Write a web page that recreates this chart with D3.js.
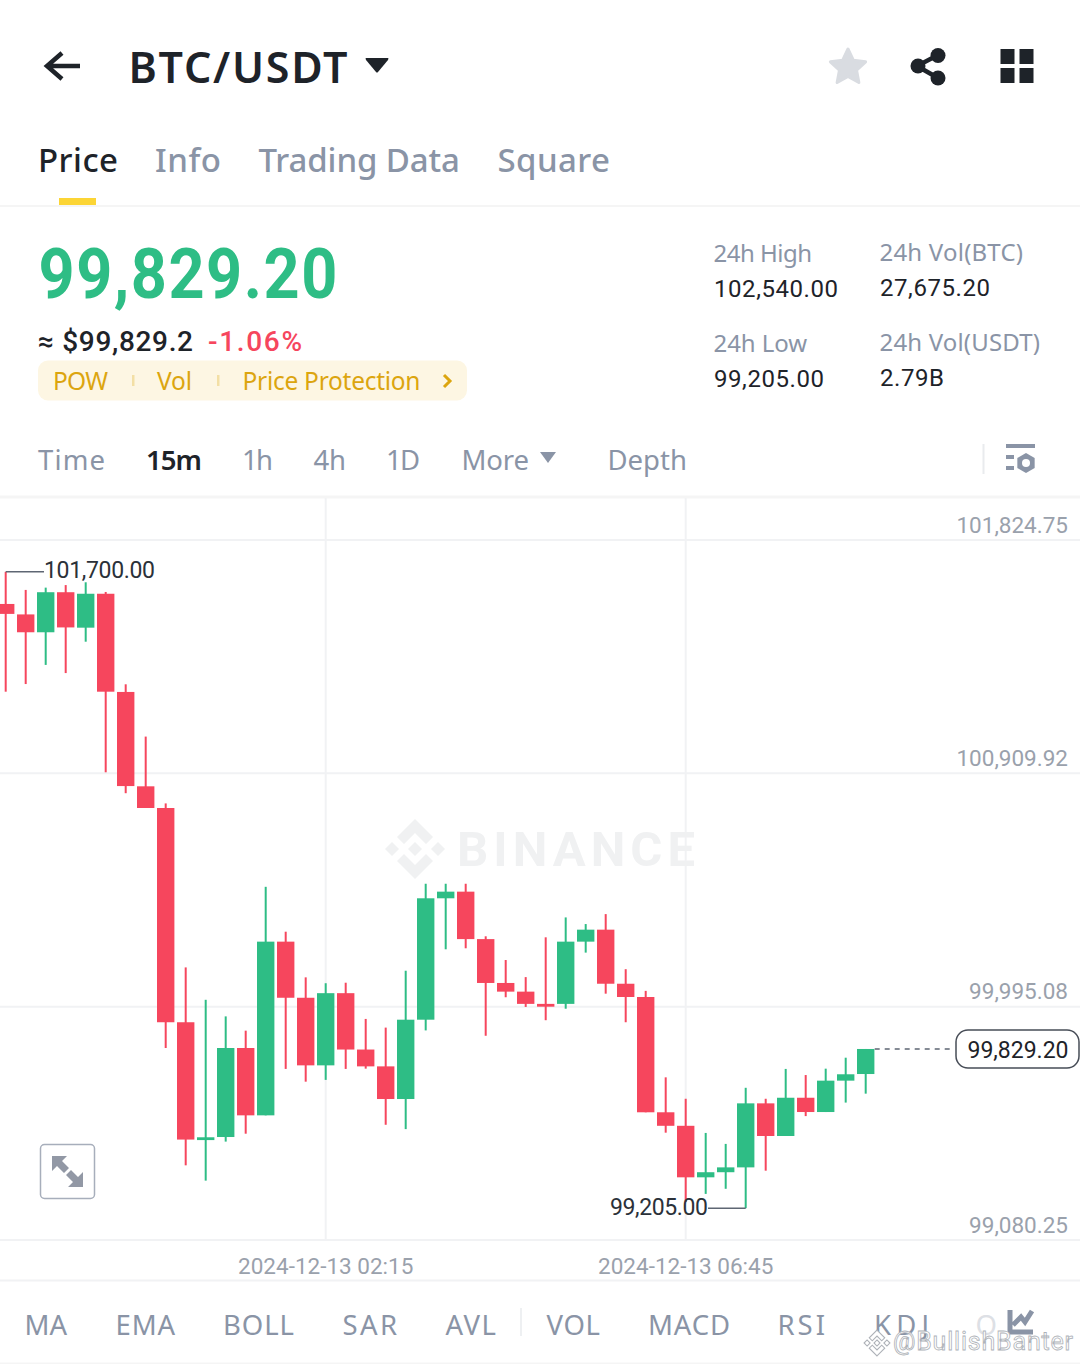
<!DOCTYPE html>
<html>
<head>
<meta charset="utf-8">
<title>BTC/USDT</title>
<script src="https://cdn.jsdelivr.net/npm/d3@7/dist/d3.min.js"></script>
<style>
  html, body { margin: 0; padding: 0; background: #fff; }
  svg { display: block; }
  text { font-family: "Noto Sans", sans-serif; }
  .num { font-family: Roboto, sans-serif; }
</style>
</head>
<body>
<svg></svg>
<script>
'use strict';
// candles (one every 15 minutes)
var opens = [101574, 101533, 101463, 101620, 101481, 101614, 101229, 100859, 100774, 99934, 99472,
  99484, 99833, 99569, 100250, 100030, 99765, 100048, 99827, 99761, 99633, 99944, 100420, 100446,
  100260, 100088, 100054, 100006, 100006, 100250, 100297, 100085, 100033, 99581, 99528, 99326,
  99346, 99365, 99616, 99488, 99638, 99582, 99705, 99731];
var highs = [101700, 101629, 101638, 101648, 101659, 101621, 101259, 101054, 100792, 100149, 100022,
  99957, 99901, 100465, 100289, 100110, 100087, 100089, 99947, 99913, 100136, 100477, 100477, 100477,
  100271, 100178, 100111, 100267, 100345, 100319, 100358, 100142, 100057, 99718, 99634, 99500,
  99457, 99677, 99634, 99751, 99727, 99752, 99795, 99829.2];
var lows = [101230, 101260, 101335, 101303, 101426, 100914, 100832, 100774, 99833, 99373, 99313,
  99466, 99497, 99569, 99751, 99701, 99708, 99751, 99752, 99532, 99515, 99902, 100220, 100224,
  99881, 100032, 99994, 99942, 99987, 100207, 100046, 99934, 99581, 99501, 99230, 99261,
  99281, 99205, 99352, 99488, 99566, 99582, 99619, 99654];
var closes = [101535, 101463, 101620, 101482, 101614, 101230, 100860, 100774, 99934, 99474, 99483,
  99833, 99569, 100250, 100030, 99765, 100048, 99827, 99761, 99633, 99944, 100420, 100446, 100260,
  100088, 100054, 100006, 99995, 100250, 100297, 100085, 100033, 99581, 99528, 99326, 99346,
  99365, 99616, 99488, 99638, 99582, 99705, 99730, 99829.2];

var priceTicks = [101824.75, 100909.92, 99995.08, 99080.25];
var timeTickIndex = [16, 34];
var timeTickLabels = ['2024-12-13 02:15', '2024-12-13 06:45'];
var highMark = { index: 0, price: 101700 };
var lowMark = { index: 37, price: 99205 };
var lastPrice = 99829.20;

var tabNames = ['Price', 'Info', 'Trading Data', 'Square'];
var intervalNames = ['Time', '15m', '1h', '4h', '1D', 'More', 'Depth'];
var indicatorNames = ['MA', 'EMA', 'BOLL', 'SAR', 'AVL', 'VOL', 'MACD', 'RSI', 'KDJ', 'O'];

var GREEN = '#2EBD85', RED = '#F6465D', DARK = '#1E2329', GREY = '#8A94A6', AXIS = '#9AA1AC', GRID = '#F1F2F4';

var svg = d3.select('svg').attr('width', 1080).attr('height', 1364);
svg.append('rect').attr('width', 1080).attr('height', 1364).attr('fill', '#fff');

// text helper, w stretches the string to the width it has in the picture
function label(x, y, str, size, color, opts) {
  opts = opts || {};
  var t = svg.append('text')
    .attr('x', x).attr('y', y)
    .attr('font-size', size)
    .attr('fill', color)
    .attr('font-weight', opts.weight || 400)
    .attr('text-anchor', opts.anchor || 'start')
    .text(str);
  if (opts.num) t.attr('class', 'num');
  if (opts.w) t.attr('textLength', opts.w).attr('lengthAdjust', 'spacing');
  return t;
}

// ---- header
svg.append('path').attr('d', 'M80 66H48M62 53L47 66L62 79')
  .attr('fill', 'none').attr('stroke', DARK).attr('stroke-width', 4.5);
label(128.5, 83, 'BTC/USDT', 43, DARK, { weight: 600, w: 219 });
svg.append('path').attr('d', 'M366 58H388Q389 58 388 60L378 72Q377 73 376 72L366 60Q365 58 366 58Z').attr('fill', DARK);

// star, share, grid icons
var star = d3.range(10).map(function(i) {
  var r = i % 2 ? 9 : 18.5, a = i * Math.PI / 5 - Math.PI / 2;
  return [848 + r * Math.cos(a), 67.5 + r * Math.sin(a)];
});
svg.append('polygon').attr('points', star.join(' ')).attr('fill', '#D9DCE1')
  .attr('stroke', '#D9DCE1').attr('stroke-width', 3).attr('stroke-linejoin', 'round');
svg.append('path').attr('d', 'M938 55L917 66L938 78').attr('fill', 'none').attr('stroke', DARK).attr('stroke-width', 4.5);
[[938, 55.5], [918, 66], [938, 78]].forEach(function(p) {
  svg.append('circle').attr('cx', p[0]).attr('cy', p[1]).attr('r', 7.5).attr('fill', DARK);
});
[[1000.5, 49], [1019.5, 49], [1000.5, 68], [1019.5, 68]].forEach(function(p) {
  svg.append('rect').attr('x', p[0]).attr('y', p[1]).attr('width', 14).attr('height', 15).attr('fill', DARK);
});

// ---- tabs
var tabX = [38, 155, 258.5, 497.5], tabW = [80, 66, 201.5, 112.5];
tabNames.forEach(function(n, i) {
  label(tabX[i], 172, n, 33, i ? GREY : DARK, { weight: 500, w: tabW[i] });
});
svg.append('rect').attr('x', 59).attr('y', 198).attr('width', 37).attr('height', 7).attr('fill', '#FCD535');
svg.append('rect').attr('x', 0).attr('y', 205).attr('width', 1080).attr('height', 2).attr('fill', '#F5F5F5');

// ---- price block, squeezed a bit since the app font has narrower digits
label(0, 0, '99,829.20', 70, GREEN, { weight: 700, num: true, w: 332 })
  .attr('transform', 'translate(38.5,298) scale(0.9,1)');
label(38, 351, '≈ $99,829.2', 28, DARK, { weight: 500, num: true, w: 155 });
label(208, 351, '-1.06%', 28, RED, { weight: 500, num: true, w: 94 });
svg.append('rect').attr('x', 38).attr('y', 360.5).attr('width', 429).attr('height', 40).attr('rx', 10).attr('fill', '#FDF6E3');
label(53, 389.5, 'POW', 24.5, '#DCA50F', { w: 55 });
label(157, 389.5, 'Vol', 24.5, '#DCA50F', { w: 35 });
label(242.5, 389.5, 'Price Protection', 24.5, '#DCA50F', { w: 178 });
[132, 217].forEach(function(x) {
  svg.append('rect').attr('x', x).attr('y', 375).attr('width', 2.5).attr('height', 11).attr('fill', '#F3DFA5');
});
svg.append('path').attr('d', 'M444 375L450 381L444 387').attr('fill', 'none').attr('stroke', '#DCA50F').attr('stroke-width', 3);

label(713.5, 262, '24h High', 24, GREY, { w: 98.5 });
label(714, 297, '102,540.00', 24, DARK, { num: true, w: 124 });
label(879.5, 261, '24h Vol(BTC)', 24, GREY, { w: 143.5 });
label(880, 296, '27,675.20', 24, DARK, { num: true, w: 110 });
label(713.5, 352, '24h Low', 24, GREY, { w: 93.5 });
label(714, 387, '99,205.00', 24, DARK, { num: true, w: 110 });
label(879.5, 351, '24h Vol(USDT)', 24, GREY, { w: 160.5 });
label(880, 386, '2.79B', 24, DARK, { num: true, w: 64 });

// ---- interval row
var intervalX = [38, 146, 242, 313.5, 386, 461.5, 607.5], intervalW = [67, 56, 31, 32.5, 34, 67.5, 79.5];
intervalNames.forEach(function(n, i) {
  label(intervalX[i], 470, n, 27.5, i === 1 ? DARK : GREY, { weight: i === 1 ? 600 : 400, w: intervalW[i] });
});
svg.append('path').attr('d', 'M540 452H556L548 463Z').attr('fill', GREY);
svg.append('rect').attr('x', 982.5).attr('y', 444).attr('width', 2).attr('height', 30).attr('fill', '#E9EBEE');
svg.append('rect').attr('x', 1006).attr('y', 444).attr('width', 29).attr('height', 4).attr('fill', GREY);
svg.append('rect').attr('x', 1006).attr('y', 455).attr('width', 8).attr('height', 4).attr('fill', GREY);
svg.append('rect').attr('x', 1006).attr('y', 466).attr('width', 8).attr('height', 4).attr('fill', GREY);
var hexagon = d3.range(6).map(function(i) {
  var a = i * Math.PI / 3 - Math.PI / 2;
  return [1026 + 10 * Math.cos(a), 463 + 10 * Math.sin(a)];
});
svg.append('polygon').attr('points', hexagon.join(' ')).attr('fill', GREY);
svg.append('circle').attr('cx', 1026).attr('cy', 463).attr('r', 4).attr('fill', '#fff');

// ---- chart area
svg.append('rect').attr('x', 0).attr('y', 495.5).attr('width', 1080).attr('height', 3).attr('fill', '#F5F5F5');
var xScale = d3.scaleLinear().domain([0, 43]).range([5.7, 865.7]);
var yScale = d3.scaleLinear().domain([99080.25, 101824.75]).range([1240, 540]);

// grid
svg.selectAll('line.hgrid').data(priceTicks).enter().append('line').attr('class', 'hgrid')
  .attr('x1', 0).attr('x2', 1080)
  .attr('y1', function(d) { return yScale(d); })
  .attr('y2', function(d) { return yScale(d); })
  .attr('stroke', GRID).attr('stroke-width', 2);
svg.selectAll('line.vgrid').data(timeTickIndex).enter().append('line').attr('class', 'vgrid')
  .attr('x1', function(d) { return xScale(d); })
  .attr('x2', function(d) { return xScale(d); })
  .attr('y1', 498).attr('y2', 1240)
  .attr('stroke', GRID).attr('stroke-width', 2);

// BINANCE watermark sits under the candles
var logoParts = [
  '0,-30 18,-12 11,-5 0,-16 -11,-5 -18,-12',
  '0,30 18,12 11,5 0,16 -11,5 -18,12',
  '-30,0 -23,-7 -16,0 -23,7',
  '30,0 23,-7 16,0 23,7',
  '0,-7 7,0 0,7 -7,0'
];
var logo = svg.append('g').attr('transform', 'translate(415,849)').attr('fill', '#F0F1F2');
logoParts.forEach(function(p) { logo.append('polygon').attr('points', p); });
label(457, 866, 'BINANCE', 49, '#F0F1F2', { weight: 700, num: true, w: 238 });

// candles
var candles = d3.range(opens.length);
var colorOf = function(i) { return closes[i] >= opens[i] ? GREEN : RED; };
svg.selectAll('rect.wick').data(candles).enter().append('rect').attr('class', 'wick')
  .attr('x', function(i) { return xScale(i) - 1; })
  .attr('width', 2)
  .attr('y', function(i) { return yScale(highs[i]); })
  .attr('height', function(i) { return yScale(lows[i]) - yScale(highs[i]); })
  .attr('fill', colorOf);
svg.selectAll('rect.body').data(candles).enter().append('rect').attr('class', 'body')
  .attr('x', function(i) { return xScale(i) - 8.7; })
  .attr('width', 17.4)
  .attr('y', function(i) { return yScale(Math.max(opens[i], closes[i])); })
  .attr('height', function(i) { return Math.max(2, Math.abs(yScale(opens[i]) - yScale(closes[i]))); })
  .attr('fill', colorOf);

// price axis labels
priceTicks.forEach(function(p) {
  label(1068, yScale(p) - 7.5, d3.format(',.2f')(p), 22.5, AXIS, { anchor: 'end', num: true });
});
// time axis labels
timeTickIndex.forEach(function(d, i) {
  label(xScale(d), 1274, timeTickLabels[i], 22.5, AXIS, { anchor: 'middle', num: true });
});
svg.append('rect').attr('x', 0).attr('y', 1279.5).attr('width', 1080).attr('height', 2).attr('fill', '#F1F2F4');

// high / low markers
var conn = svg.append('g').attr('stroke', '#5E6673').attr('stroke-width', 1.5).attr('fill', 'none');
conn.append('line').attr('x1', xScale(highMark.index)).attr('x2', 44)
  .attr('y1', yScale(highMark.price)).attr('y2', yScale(highMark.price));
label(44, yScale(highMark.price) + 6, d3.format(',.2f')(highMark.price), 23, '#2B3139', { num: true, w: 111 });
conn.append('line').attr('x1', 708).attr('x2', xScale(lowMark.index))
  .attr('y1', yScale(lowMark.price)).attr('y2', yScale(lowMark.price));
label(610, yScale(lowMark.price) + 7, d3.format(',.2f')(lowMark.price), 23, '#2B3139', { num: true, w: 98 });

// last price
conn.append('line').attr('x1', xScale(43) + 9).attr('x2', 950)
  .attr('y1', yScale(lastPrice)).attr('y2', yScale(lastPrice))
  .attr('stroke-dasharray', '5,5');
svg.append('rect').attr('x', 956).attr('y', 1030).attr('width', 123).attr('height', 38).attr('rx', 12)
  .attr('fill', '#fff').attr('stroke', '#474D57').attr('stroke-width', 1.5);
label(1018, 1058, d3.format(',.2f')(lastPrice), 23, DARK, { anchor: 'middle', num: true });

// expand button
svg.append('rect').attr('x', 40.5).attr('y', 1144.5).attr('width', 54).attr('height', 54).attr('rx', 4)
  .attr('fill', '#fff').attr('stroke', '#A7AEBB').attr('stroke-width', 1.5);
svg.append('path').attr('d', 'M52 1156H67L62 1161L69 1168L64 1173L57 1166L52 1171ZM83 1187H68L73 1182L66 1175L71 1170L78 1177L83 1172Z')
  .attr('fill', '#9298A5');

// ---- indicator row
var indicatorX = [24.5, 115.5, 223, 342.5, 445.5, 546.5, 648, 777.5, 874, 975.5], indicatorW = [42.5, 59.5, 71, 54.5, 50.5, 53.5, 82, 47.5, 55, 19.5];
indicatorNames.forEach(function(n, i) {
  label(indicatorX[i], 1335, n, 27.5, i === 9 ? '#DDE0E5' : GREY, { w: indicatorW[i] });
});
svg.append('rect').attr('x', 520).attr('y', 1308).attr('width', 2).attr('height', 28).attr('fill', '#EEF0F2');
svg.append('path').attr('d', 'M1010 1310V1332H1033M1013 1325L1021 1317L1025 1322L1032 1311')
  .attr('fill', 'none').attr('stroke', GREY).attr('stroke-width', 5);
svg.append('rect').attr('x', 0).attr('y', 1362.5).attr('width', 1080).attr('height', 1.5).attr('fill', '#F5F5F5');

// platform watermark on top of everything
var wm = svg.append('g').attr('transform', 'translate(877,1343) scale(0.43)')
  .attr('fill', '#fff').attr('stroke', '#AEB2B8').attr('stroke-width', 2.5);
logoParts.forEach(function(p) { wm.append('polygon').attr('points', p); });
label(893, 1350, '@BullishBanter', 25, '#fff', { num: true, w: 180 })
  .attr('stroke', '#AEB2B8').attr('stroke-width', 0.8);
</script>
</body>
</html>
